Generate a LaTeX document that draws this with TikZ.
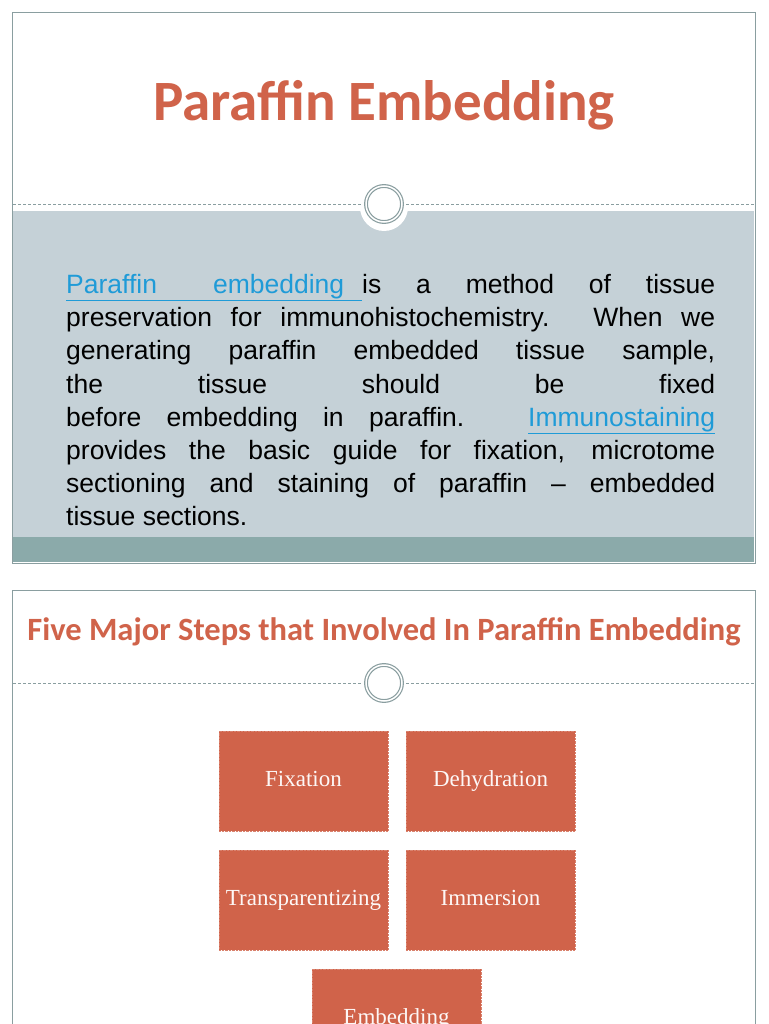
\documentclass[tikz,border=0pt]{standalone}
\usepackage{fontspec}
\setmainfont{Liberation Sans}
\newfontfamily\titlefont{Carlito}
\newfontfamily\boxfont{Liberation Serif}
\definecolor{rust}{HTML}{D0634A}
\definecolor{band}{HTML}{C5D1D7}
\definecolor{bandd}{HTML}{8BAAAA}
\definecolor{linkc}{HTML}{1F9BD7}
\definecolor{frame}{HTML}{8A9EA0}
\begin{document}
\begin{tikzpicture}[x=1pt,y=-1pt,
  stepbox/.style={fill=rust,draw=rust!80!white,densely dotted,minimum width=169pt,minimum height=100pt,inner sep=0pt,text height=15pt,text depth=4pt,text=white!95!rust,font=\boxfont\fontsize{23}{26}\selectfont},
  ring/.style={circle,draw=frame,line width=1.2pt,fill=white,minimum size=36pt,double=white,double distance=1.5pt},
  sep/.style={frame,densely dashed,line width=0.5pt}]
\useasboundingbox (0,0) rectangle (768,1024);
\fill[white] (0,0) rectangle (768,1024);
% slide 1
\draw[frame,line width=0.6pt] (12,12) rectangle (755,563);
\fill[band] (13,211) rectangle (754,537);
\fill[bandd] (13,537) rectangle (754,562);
\node[font=\titlefont\bfseries\fontsize{57}{60}\selectfont,text=rust] (t1) at (384,105) {Paraffin Embedding};
\fill[white] (384,207) circle (24);
\draw[sep] (13,204) -- (362,204);
\draw[sep] (406,204) -- (754,204);
\node[ring] (c1) at (384,204) {};
\node[anchor=north west,text width=649pt,align=justify,inner sep=0pt,font=\fontsize{26.5}{33.2}\selectfont] (body) at (66,274) {%
\hbox to 649pt{\textcolor{linkc}{\underline{\makebox[296pt][l]{Paraffin\hfill embedding\hspace*{18pt}}}}is\hfill a\hfill method\hfill of\hfill tissue}
preservation for immunohistochemistry. When we\linebreak
generating paraffin embedded tissue sample,\linebreak
the tissue should be fixed\linebreak
before embedding in paraffin. \textcolor{linkc}{\underline{Immunostaining}}\linebreak
provides the basic guide for fixation, microtome\linebreak
sectioning and staining of paraffin -- embedded\linebreak
tissue sections.};
% slide 2
\draw[frame,line width=0.6pt] (12,1030) -- (12,590) -- (755,590) -- (755,1030);
\node[font=\titlefont\bfseries\fontsize{32.5}{36}\selectfont,text=rust] (t2) at (384,632) {Five Major Steps that Involved In Paraffin Embedding};
\draw[sep] (13,683) -- (362,683);
\draw[sep] (406,683) -- (754,683);
\node[ring] (c2) at (384,683) {};
\node[stepbox] (fix) at (303.5,781) {Fixation};
\node[stepbox] (deh) at (490.5,781) {Dehydration};
\node[stepbox] (tra) at (303.5,900) {Transparentizing};
\node[stepbox] (imm) at (490.5,900) {Immersion};
\node[stepbox] (emb) at (396.5,1019) {Embedding};
\end{tikzpicture}
\end{document}
